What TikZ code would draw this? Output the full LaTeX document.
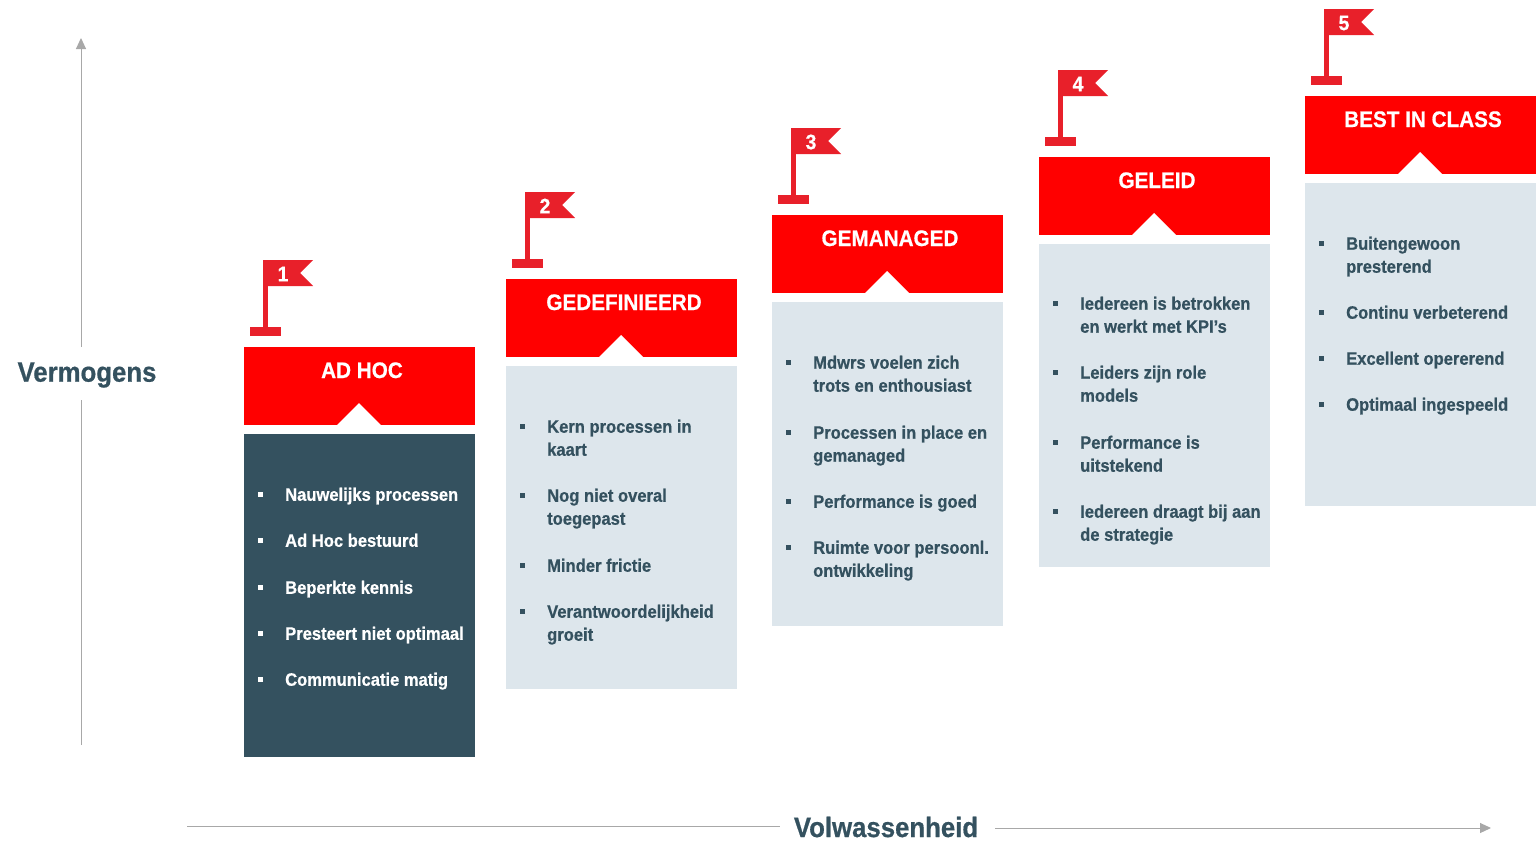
\documentclass[tikz,border=0pt]{standalone}
\usepackage{fontspec}
\newfontfamily\cond{Liberation Sans Bold}[FakeStretch=0.92,FakeBold=0.6]
\usetikzlibrary{arrows.meta}
\definecolor{rd}{HTML}{FF0000}
\definecolor{fl}{HTML}{E8202A}
\definecolor{dk}{HTML}{34515F}
\definecolor{lt}{HTML}{DDE6EC}
\definecolor{ax}{HTML}{A8A8A8}
\tikzset{
 hd/.style={fill=rd,draw=none},
 htxt/.style={text=white,font=\cond\fontsize{22.5}{24}\selectfont,anchor=base},
 itm/.style={anchor=north west,inner sep=0pt,font=\cond\fontsize{18}{23}\selectfont,align=left,text=#1},
 bul/.style={fill=#1,draw=none,minimum size=5pt,inner sep=0pt},
 axl/.style={draw=ax,line width=1pt},
 ttl/.style={text=dk,font=\cond\fontsize{28}{30}\selectfont},
}
\newcommand{\stage}[7]{%
 \begin{scope}[shift={(#1,#2)}]
  \fill[hd] (0,0) rectangle (231,78);
  \fill[white] (93,78) -- (115,56) -- (137,78) -- cycle;
  \fill[#6] (0,87) rectangle (231,#5-#2);
  \node[htxt] (h#4) at (118,31) {#3};
  \fill[fl] (19,-87) rectangle (24,-12);
  \fill[fl] (6,-20) rectangle (37,-11);
  \fill[fl] (24,-87) -- (69,-87) -- (56,-74) -- (69,-61) -- (24,-61) -- cycle;
  \node[text=white,font=\cond\fontsize{21}{21}\selectfont] (n#4) at (39,-73) {#4};
 \end{scope}}
\begin{document}
\begin{tikzpicture}[x=1pt,y=-1pt]
\useasboundingbox (0,0) rectangle (1536,862);
\coordinate (vb) at (81,745); \coordinate (vt) at (81,38);
\node[ttl] (vy) at (87,375) {Vermogens};
\draw[axl] (vb) -- (81,400);
\draw[axl,-{Triangle[length=11pt,width=10pt]},ax] (81,347) -- (vt);
\node[ttl] (vx) at (886,827) {Volwassenheid};
\coordinate (hl) at (187,826); \coordinate (hr) at (1491,828);
\draw[axl] (hl) -- (780,826);
\draw[axl,-{Triangle[length=11pt,width=10pt]},ax] (995,828) -- (hr);
\stage{244}{347}{AD HOC}{1}{757}{dk}{white}
\stage{506}{279}{GEDEFINIEERD}{2}{689}{lt}{dk}
\stage{772}{215}{GEMANAGED}{3}{626}{lt}{dk}
\stage{1039}{157}{GELEID}{4}{567}{lt}{dk}
\stage{1305}{96}{BEST IN CLASS}{5}{506}{lt}{dk}
\foreach \y/\t in {494/Nauwelijks processen,540/Ad Hoc bestuurd,587/Beperkte kennis,633/Presteert niet optimaal,679/Communicatie matig}{
 \node[bul=white] at (260,\y) {}; \node[itm=white] at (285,\y-6.5) {\t};}
\foreach \y/\t in {426/{Kern processen in\\kaart},495/{Nog niet overal\\toegepast},565/Minder frictie,611/{Verantwoordelijkheid\\groeit}}{
 \node[bul=dk] at (522,\y) {}; \node[itm=dk] at (547,\y-6.5) {\t};}
\foreach \y/\t in {362/{Mdwrs voelen zich\\trots en enthousiast},432/{Processen in place en\\gemanaged},501/Performance is goed,547/{Ruimte voor persoonl.\\ontwikkeling}}{
 \node[bul=dk] at (788,\y) {}; \node[itm=dk] at (813,\y-6.5) {\t};}
\foreach \y/\t in {303/{Iedereen is betrokken\\en werkt met KPI’s},372/{Leiders zijn role\\models},442/{Performance is\\uitstekend},511/{Iedereen draagt bij aan\\de strategie}}{
 \node[bul=dk] at (1055,\y) {}; \node[itm=dk] at (1080,\y-6.5) {\t};}
\foreach \y/\t in {243/{Buitengewoon\\presterend},312/Continu verbeterend,358/Excellent opererend,404/Optimaal ingespeeld}{
 \node[bul=dk] at (1321,\y) {}; \node[itm=dk] at (1346,\y-6.5) {\t};}
\end{tikzpicture}
\end{document}
